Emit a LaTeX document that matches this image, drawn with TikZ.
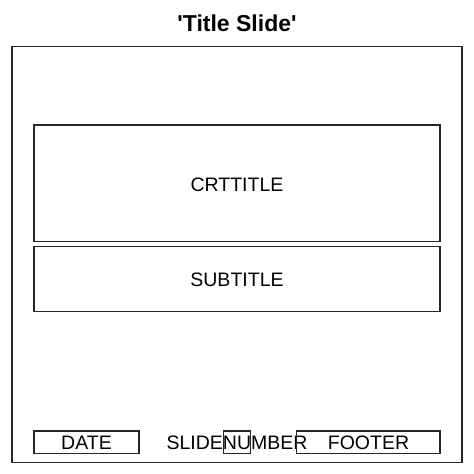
\documentclass[tikz,border=0pt]{standalone}
\usepackage{fontspec}
\setmainfont{Liberation Sans}
\begin{document}
\begin{tikzpicture}[x=1pt,y=-1pt,
  box/.style={draw=black!85,line width=1.3pt,rectangle,inner sep=0pt,outer sep=0pt},
  lbl/.style={font=\fontsize{19.5}{20}\selectfont,inner sep=0pt,anchor=base}]
\useasboundingbox (0,0) rectangle (474,474);
\node[font=\bfseries\fontsize{23}{24}\selectfont,inner sep=0pt,anchor=base] (title) at (237,31.5) {\textquotesingle Title Slide\textquotesingle};
\node[box,line width=1.6pt,minimum width=450pt,minimum height=416pt] (frame) at (237,254.3) {};
\node[box,minimum width=406pt,minimum height=116.5pt] (crt) at (237,183.3) {};
\node[lbl] (crtt) at (237,191.7) {CRTTITLE};
\node[box,minimum width=406pt,minimum height=65pt] (sub) at (237,279.2) {};
\node[lbl] (subt) at (237,286.7) {SUBTITLE};
\node[box,minimum width=105pt,minimum height=22.3pt] (date) at (86.5,442.2) {};
\node[lbl] (datet) at (86.5,449.3) {DATE};
\node[box,minimum width=27.4pt,minimum height=22.3pt] (num) at (237,442.2) {};
\node[lbl] (numt) at (237,449.3) {SLIDENUMBER};
\node[box,minimum width=143.3pt,minimum height=22.3pt] (foot) at (368.3,442.2) {};
\node[lbl] (foott) at (368.5,449.3) {FOOTER};
\end{tikzpicture}
\end{document}
